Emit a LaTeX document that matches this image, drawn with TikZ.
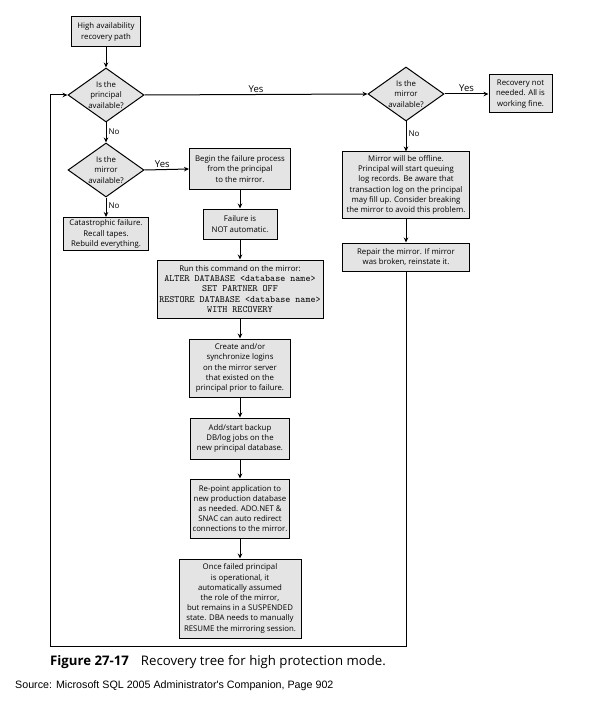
\documentclass[tikz,border=0pt]{standalone}
\usepackage{fontspec}
\setmainfont{Open Sans}
\newfontfamily\srcfont{Liberation Sans}
\usetikzlibrary{shapes.geometric,arrows.meta}
\definecolor{boxgray}{HTML}{E4E4E4}
\newcommand{\codeline}[1]{{\ttfamily\fontsize{9.6}{10.2}\selectfont #1}}
\tikzset{
  box/.style={draw=black, line width=1pt, fill=boxgray, align=center, inner sep=1pt,
    font=\fontsize{7.8}{10.2}\selectfont},
  dia/.style={draw=black, line width=1pt, fill=boxgray, diamond, inner sep=0pt,
    minimum width=76pt, minimum height=54pt},
  dtext/.style={align=center, inner sep=0pt, font=\fontsize{7.8}{10.2}\selectfont},
  arr/.style={-{Stealth[length=5pt,width=4.5pt]}, line width=1pt},
  yes/.style={font=\fontsize{9.5}{10}\selectfont, inner sep=1.5pt},
  no/.style={font=\fontsize{8}{9}\selectfont, inner sep=2pt, anchor=west},
}
\begin{document}
\begin{tikzpicture}[x=1pt,y=-1pt]
\useasboundingbox (0,0) rectangle (599,714);
\fill[white] (0,0) rectangle (599,714);

% left column
\node[box, minimum width=69pt, minimum height=30pt] (start) at (106,32) {High availability\\recovery path};
\node[dia] (d1) at (106,95) {};
\node[dtext] (d1t) at (d1.center) {Is the\\principal\\available?};
\node[dia] (d2) at (106,170) {};
\node[dtext] (d2t) at (d2.center) {Is the\\mirror\\available?};
\node[box, minimum width=85pt, minimum height=33pt] (cat) at (106,234) {Catastrophic failure.\\Recall tapes.\\Rebuild everything.};

% middle column
\node[box, minimum width=101pt, minimum height=40pt] (begin) at (240,169) {Begin the failure process\\from the principal\\to the mirror.};
\node[box, minimum width=74pt, minimum height=30pt] (fail) at (240,224) {Failure is\\NOT automatic.};
\node[box, minimum width=166pt, minimum height=58pt] (run) at (240,289) {Run this command on the mirror:\\
  \codeline{ALTER DATABASE <database name>}\\
  \codeline{SET PARTNER OFF}\\
  \codeline{RESTORE DATABASE <database name>}\\
  \codeline{WITH RECOVERY}};
\node[box, minimum width=101pt, minimum height=58pt] (create) at (240,368) {Create and/or\\synchronize logins\\on the mirror server\\that existed on the\\principal prior to failure.};
\node[box, minimum width=99pt, minimum height=41pt] (add) at (240,438.5) {Add/start backup\\DB/log jobs on the\\new principal database.};
\node[box, minimum width=99pt, minimum height=59pt] (repoint) at (240,508.5) {Re-point application to\\new production database\\as needed. ADO.NET \&\\SNAC can auto redirect\\connections to the mirror.};
\node[box, minimum width=122pt, minimum height=79pt] (once) at (240,598.5) {Once failed principal\\is operational, it\\automatically assumed\\the role of the mirror,\\but remains in a SUSPENDED\\state. DBA needs to manually\\RESUME the mirroring session.};

% right column
\node[dia] (d3) at (406,94) {};
\node[dtext] (d3t) at (d3.center) {Is the\\mirror\\available?};
\node[box, minimum width=63pt, minimum height=38pt] (rec) at (520.5,94) {Recovery not\\needed. All is\\working fine.};
\node[box, minimum width=127pt, minimum height=66pt] (off) at (406,185) {Mirror will be offline.\\Principal will start queuing\\log records. Be aware that\\transaction log on the principal\\may fill up. Consider breaking\\the mirror to avoid this problem.};
\node[box, minimum width=127pt, minimum height=28pt] (rep) at (406,257) {Repair the mirror. If mirror\\was broken, reinstate it.};

% connectors
\draw[arr] (start) -- (d1);
\draw[arr] (d1.east) -- node[yes, above] {Yes} (d3.west);
\draw[arr] (d1.south) -- node[no, pos=0.45] {No} (d2.north);
\draw[arr] (d2.south) -- node[no, pos=0.4] {No} (cat.north);
\draw[arr] (d2.east) -- node[yes, above, pos=0.4] {Yes} (begin.west);
\draw[arr] (begin) -- (fail);
\draw[arr] (fail) -- (run);
\draw[arr] (run) -- (create);
\draw[arr] (create) -- (add);
\draw[arr] (add) -- (repoint);
\draw[arr] (repoint) -- (once);
\draw[arr] (d3.east) -- node[yes, above] {Yes} (rec.west);
\draw[arr] (d3.south) -- node[no, pos=0.4] {No} (off.north);
\draw[arr] (off) -- (rep);
\coordinate (rb) at (406,646);
\coordinate (lb) at (50,646);
\draw[arr] (rep.south) -- (rb) -- (lb) -- (lb |- d1.west) -- (d1.west);

% caption
\node[anchor=west, inner sep=0pt, font=\fontsize{13.2}{15}\selectfont] (cap) at (50,662) {\textbf{Figure 27-17}\hspace{12pt}Recovery tree for high protection mode.};
\node[anchor=west, inner sep=0pt, font=\srcfont\fontsize{10.7}{12}\selectfont] (src) at (15,686) {Source: Microsoft SQL 2005 Administrator's Companion, Page 902};
\end{tikzpicture}
\end{document}
